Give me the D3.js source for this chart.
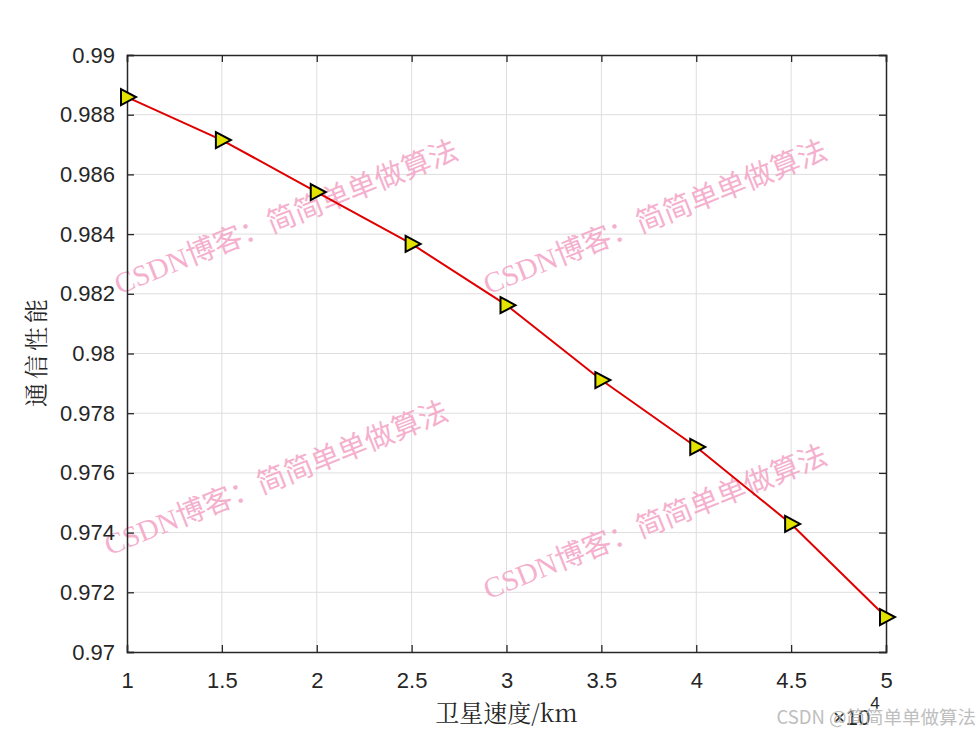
<!DOCTYPE html>
<html>
<head>
<meta charset="utf-8">
<script src="https://cdn.jsdelivr.net/npm/d3@7"></script>
<style>
  body { margin: 0; background: #fff; }
  svg text { font-family: "Liberation Sans", Arial, sans-serif; }
</style>
</head>
<body>
<svg id="chart" width="980" height="735"></svg>
<script>
// satellite speed (km) vs communication performance
const speeds = [10000, 15000, 20000, 25000, 30000, 35000, 40000, 45000, 50000];
const perf = [0.98859, 0.98715, 0.98541, 0.98367, 0.98162, 0.97911, 0.97687, 0.97429, 0.97117];
const xTicks = [10000, 15000, 20000, 25000, 30000, 35000, 40000, 45000, 50000];
const yTicks = [0.97, 0.972, 0.974, 0.976, 0.978, 0.98, 0.982, 0.984, 0.986, 0.988, 0.99];
const watermarks = [[286, 217], [655, 217], [276, 478], [655, 522]];

let svg = d3.select("svg#chart");

let plotL = 127, plotR = 886, plotT = 55, plotB = 652;

var x = d3.scaleLinear().domain([10000, 50000]).range([plotL, plotR]);
var y = d3.scaleLinear().domain([0.97, 0.99]).range([plotB, plotT]);

// grid
let grid = svg.append("g").attr("class", "grid");
grid.selectAll("line.vx")
  .data(xTicks.slice(1, -1))
  .enter().append("line")
  .attr("x1", d => x(d)).attr("x2", d => x(d))
  .attr("y1", plotT).attr("y2", plotB)
  .attr("stroke", "#dedede").attr("stroke-width", 1);
grid.selectAll("line.hy")
  .data(yTicks.slice(1, -1))
  .enter().append("line")
  .attr("x1", plotL).attr("x2", plotR)
  .attr("y1", d => y(d)).attr("y2", d => y(d))
  .attr("stroke", "#dedede").attr("stroke-width", 1);

// watermarks
svg.append("g")
  .selectAll("text")
  .data(watermarks)
  .enter().append("text")
  .attr("transform", d => `translate(${d[0]},${d[1]}) rotate(-21.8)`)
  .attr("text-anchor", "middle")
  .attr("dominant-baseline", "central")
  .style("font-family", "'Liberation Serif', 'Noto Sans CJK SC', serif")
  .style("font-size", "29px")
  .attr("fill", "#f4a3c6")
  .attr("opacity", 0.85)
  .text("CSDN博客：简简单单做算法");

// axes (ticks inward, box all around)
let fmtX = d => d3.format("")(d / 10000);
let fmtY = d => d3.format("")(+d.toFixed(3));

let gx = svg.append("g").attr("transform", `translate(0,${plotB})`)
  .call(d3.axisBottom(x).tickValues(xTicks).tickSize(-7).tickPadding(20).tickFormat(fmtX));
let gxTop = svg.append("g").attr("transform", `translate(0,${plotT})`)
  .call(d3.axisTop(x).tickValues(xTicks).tickSize(-7).tickFormat(""));
let gy = svg.append("g").attr("transform", `translate(${plotL},0)`)
  .call(d3.axisLeft(y).tickValues(yTicks).tickSize(-7).tickPadding(12).tickFormat(fmtY));
let gyRight = svg.append("g").attr("transform", `translate(${plotR},0)`)
  .call(d3.axisRight(y).tickValues(yTicks).tickSize(-7).tickFormat(""));

[gx, gxTop, gy, gyRight].forEach(g => {
  g.select(".domain").attr("stroke", "#262626").attr("stroke-width", 1.5);
  g.selectAll(".tick line").attr("stroke", "#262626").attr("stroke-width", 1.3);
  g.selectAll(".tick text")
    .attr("fill", "#262626")
    .style("font-size", "22px")
    .style("font-family", "'Liberation Sans', Arial, sans-serif");
});

// line
svg.append("path")
  .datum(speeds.map((s, i) => [s, perf[i]]))
  .attr("fill", "none")
  .attr("stroke", "#e00000")
  .attr("stroke-width", 2)
  .attr("d", d3.line().x(d => x(d[0])).y(d => y(d[1])));

// right-pointing triangle markers
svg.append("g")
  .selectAll("path")
  .data(speeds.map((s, i) => [s, perf[i]]))
  .enter().append("path")
  .attr("transform", d => `translate(${x(d[0])},${y(d[1])})`)
  .attr("d", "M-6,-8 L9,0 L-6,8 Z")
  .attr("fill", "#e3e300")
  .attr("stroke", "#000")
  .attr("stroke-width", 2)
  .attr("stroke-linejoin", "miter");

// axis labels
svg.append("text")
  .attr("x", (plotL + plotR) / 2)
  .attr("y", 722)
  .attr("text-anchor", "middle")
  .style("font-family", "'Noto Serif CJK SC', 'Noto Sans CJK SC', serif")
  .style("font-size", "24px")
  .attr("fill", "#262626")
  .text("卫星速度/km");

svg.append("text")
  .attr("transform", "translate(45,351) rotate(-90)")
  .attr("text-anchor", "middle")
  .style("font-family", "'Noto Serif CJK SC', 'Noto Sans CJK SC', serif")
  .style("font-size", "24px")
  .style("letter-spacing", "4px")
  .attr("fill", "#262626")
  .text("通信性能");

// exponent label
let expo = svg.append("text")
  .attr("x", 833)
  .attr("y", 725)
  .style("font-size", "22px")
  .attr("fill", "#262626");
expo.append("tspan").text("×10");
expo.append("tspan").attr("dy", -16).style("font-size", "17px").text("4");

// site watermark
svg.append("text")
  .attr("x", 976)
  .attr("y", 724)
  .attr("text-anchor", "end")
  .style("font-family", "'Noto Sans CJK SC', sans-serif")
  .style("font-size", "18.5px")
  .attr("fill", "#b8b8b8")
  .attr("opacity", 0.9)
  .text("CSDN @简简单单做算法");
</script>
</body>
</html>
